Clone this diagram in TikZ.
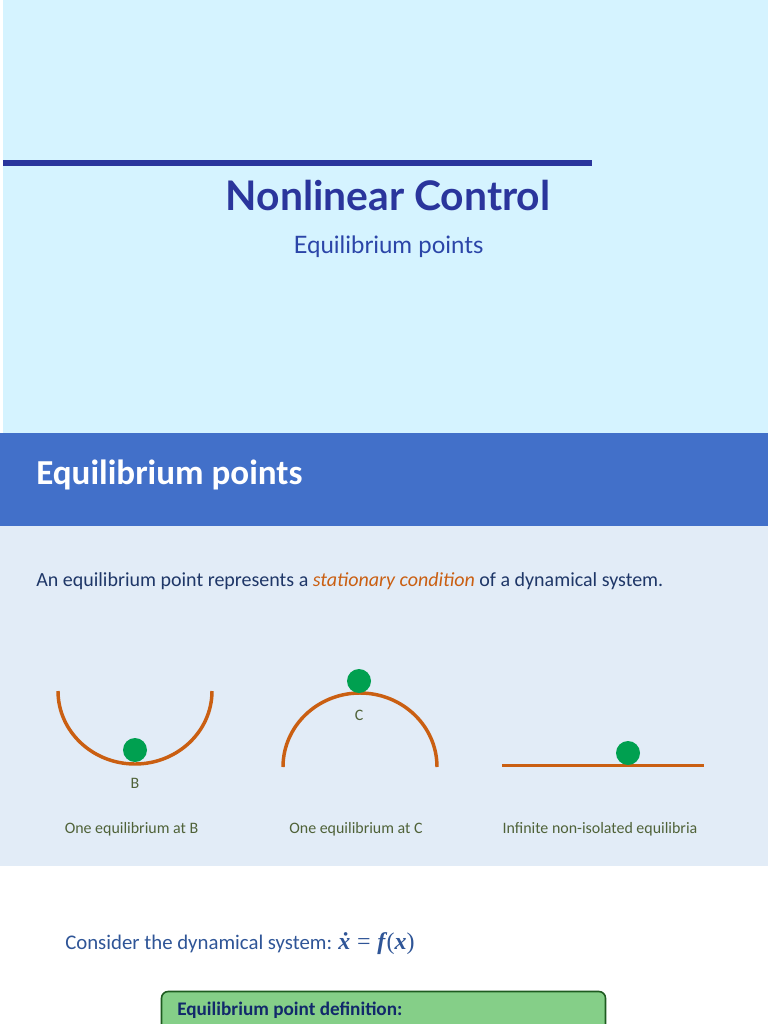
\documentclass[tikz,border=0pt]{standalone}
\usepackage{fontspec}
\setmainfont{Carlito}
\newfontfamily\latofont{Lato}
\newfontfamily\mathserif{Liberation Serif}
\definecolor{titlebg}{HTML}{D5F3FF}
\definecolor{navy}{HTML}{2A359C}
\definecolor{subblue}{HTML}{2B45A8}
\definecolor{bandblue}{HTML}{4270C9}
\definecolor{panelbg}{HTML}{E2ECF7}
\definecolor{inkblue}{HTML}{1F3768}
\definecolor{accentorange}{HTML}{CA5F12}
\definecolor{ballgreen}{HTML}{00A050}
\definecolor{capgreen}{HTML}{4F6238}
\definecolor{sysblue}{HTML}{2F5597}
\definecolor{boxgreen}{HTML}{85CF88}
\definecolor{boxedge}{HTML}{1E5B20}
\definecolor{boxink}{HTML}{12296B}
\tikzset{
  track/.style={draw=accentorange,line width=2.6pt},
  ball/.style={circle,fill=ballgreen,draw=none,minimum size=18pt,inner sep=0pt},
  caption/.style={text=capgreen,font=\fontsize{11.95}{14}\selectfont,inner sep=0pt},
  letter/.style={text=capgreen,font=\fontsize{11.95}{14}\selectfont,inner sep=0pt}
}
\begin{document}
\begin{tikzpicture}[x=0.75pt,y=-0.75pt]
\useasboundingbox (0,0) rectangle (768,1024);
\fill[white] (0,0) rectangle (768,1024);
% title slide
\fill[titlebg] (3,0) rectangle (768,433);
\fill[navy] (3,160) rectangle (592,166);
\node[text=navy,inner sep=0pt,font=\latofont\fontsize{30.6}{36}\selectfont\bfseries] (title) at (388,196) {Nonlinear Control};
\node[text=subblue,inner sep=0pt,font=\latofont\fontsize{18}{21}\selectfont] (sub) at (388.5,247) {Equilibrium points};
% second slide
\fill[panelbg] (0,526) rectangle (768,866);
\fill[bandblue] (0,433) rectangle (768,526);
\node[anchor=west,text=white,inner sep=0pt,font=\fontsize{26.3}{30}\selectfont\bfseries] (head) at (36,475) {Equilibrium points};
\node[anchor=west,text=inkblue,inner sep=0pt,font=\fontsize{15}{18}\selectfont] (intro) at (36,581) {An equilibrium point represents a \textcolor{accentorange}{\itshape stationary condition} of a dynamical system.};
% valley
\draw[track] (58,691) arc[start angle=180,end angle=0,x radius=77,y radius=73];
\node[ball] (ballB) at (135,750) {};
\node[letter] (lblB) at (135,783) {B};
\node[caption] (capB) at (131.5,829.5) {One equilibrium at B};
% hill
\draw[track] (283,767) arc[start angle=180,end angle=360,x radius=77,y radius=74];
\node[ball] (ballC) at (359,681) {};
\node[letter] (lblC) at (359,715) {C};
\node[caption] (capC) at (356,829.5) {One equilibrium at C};
% flat
\coordinate (flatL) at (502,765.5);
\coordinate (flatR) at (704,765.5);
\draw[track] (flatL) -- (flatR);
\node[ball] (ballF) at (628,753) {};
\node[caption] (capF) at (600,829.5) {Infinite non-isolated equilibria};
% third slide
\node[anchor=west,text=sysblue,inner sep=0pt,font=\fontsize{15.6}{18}\selectfont] (sys) at (65,944) {Consider the dynamical system:\hspace{0.3em}{\fontsize{18}{20}\selectfont\mathserif\bfseries\itshape \.{x}\hspace{0.28em}{\upshape\mdseries =}\hspace{0.28em}f\hspace{0.05em}{\upshape\mdseries (}x{\upshape\mdseries )}}};
\begin{scope}
\clip (0,900) rectangle (768,1024);
\draw[draw=boxedge,fill=boxgreen,line width=1.2pt,rounded corners=5pt] (161.5,991.5) rectangle (605.5,1060);
\end{scope}
\node[anchor=west,text=boxink,inner sep=0pt,font=\fontsize{14.4}{17}\selectfont\bfseries] (def) at (177,1010.5) {Equilibrium point definition:};
\end{tikzpicture}
\end{document}
